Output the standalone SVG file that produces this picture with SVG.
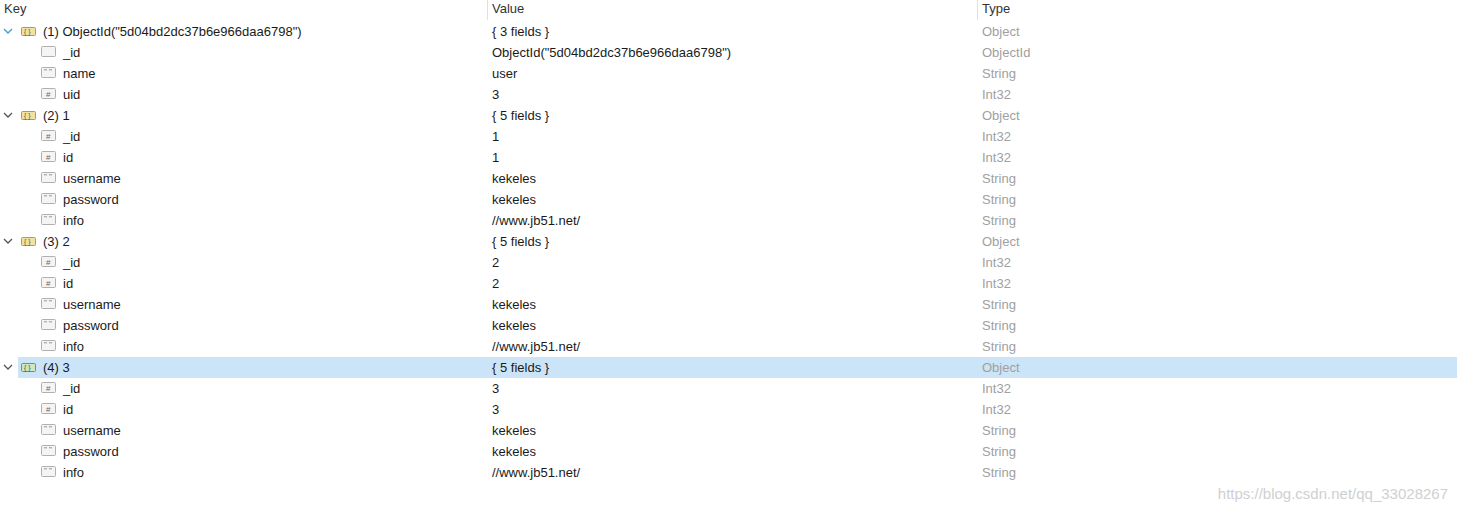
<svg xmlns="http://www.w3.org/2000/svg" width="1457" height="512" viewBox="0 0 1457 512">
<defs>
<style>
text{font-family:"Liberation Sans","Noto Sans",sans-serif;font-size:13px;fill:#1a1a1a}
.t{fill:#a0a0a0}
.h{fill:#333}
.ob{fill:#efe2a4;stroke:#b49a4a;stroke-width:1}
.ob4{fill:#cfe5c4;stroke:#6a9a5a;stroke-width:1}
.fi{fill:#f4f4f4;stroke:#b0b0b0;stroke-width:1}
.ic{font-size:8px;fill:#666}
.oc{font-size:7px;fill:#6a5a20}
.chev{fill:none;stroke:#555;stroke-width:1.3}
.wm{fill:#d0d0d0;font-size:15px}
</style>
<g id="ficon"><rect class="fi" x="41.5" y="-5.5" width="14" height="10" rx="1"/></g>
</defs>
<rect width="1457" height="512" fill="#fff"/>
<g id="header">
<text class="h" x="4" y="13">Key</text>
<text class="h" x="492" y="13">Value</text>
<text class="h" x="982" y="13">Type</text>
<line x1="487.5" y1="0" x2="487.5" y2="20" stroke="#e0e0e0"/>
<line x1="977.5" y1="0" x2="977.5" y2="20" stroke="#e0e0e0"/>
</g>
<rect id="highlight" x="18" y="357" width="1439" height="21" fill="#cce4f7"/>
<g id="rows">
<polyline class="chev" points="4,29 8,33 12,29" style="stroke:#3aa0d8"/>
<rect class="ob" x="21.5" y="27.5" width="14" height="8" rx="1"/><text class="oc" x="24" y="34">{ }</text>
<text x="43" y="36">(1) ObjectId("5d04bd2dc37b6e966daa6798")</text>
<text x="492" y="36">{ 3 fields }</text><text class="t" x="982" y="36">Object</text>
<use href="#ficon" y="52"/><text x="63" y="57">_id</text><text x="492" y="57">ObjectId("5d04bd2dc37b6e966daa6798")</text><text class="t" x="982" y="57">ObjectId</text>
<use href="#ficon" y="73"/><text class="ic" x="44" y="74">" "</text><text x="63" y="78">name</text><text x="492" y="78">user</text><text class="t" x="982" y="78">String</text>
<use href="#ficon" y="94"/><text class="ic" x="46" y="97">#</text><text x="63" y="99">uid</text><text x="492" y="99">3</text><text class="t" x="982" y="99">Int32</text>
<polyline class="chev" points="4,113 8,117 12,113"/>
<rect class="ob" x="21.5" y="111.5" width="14" height="8" rx="1"/><text class="oc" x="24" y="118">{ }</text>
<text x="43" y="120">(2) 1</text><text x="492" y="120">{ 5 fields }</text><text class="t" x="982" y="120">Object</text>
<use href="#ficon" y="136"/><text class="ic" x="46" y="139">#</text><text x="63" y="141">_id</text><text x="492" y="141">1</text><text class="t" x="982" y="141">Int32</text>
<use href="#ficon" y="157"/><text class="ic" x="46" y="160">#</text><text x="63" y="162">id</text><text x="492" y="162">1</text><text class="t" x="982" y="162">Int32</text>
<use href="#ficon" y="178"/><text class="ic" x="44" y="179">" "</text><text x="63" y="183">username</text><text x="492" y="183">kekeles</text><text class="t" x="982" y="183">String</text>
<use href="#ficon" y="199"/><text class="ic" x="44" y="200">" "</text><text x="63" y="204">password</text><text x="492" y="204">kekeles</text><text class="t" x="982" y="204">String</text>
<use href="#ficon" y="220"/><text class="ic" x="44" y="221">" "</text><text x="63" y="225">info</text><text x="492" y="225">//www.jb51.net/</text><text class="t" x="982" y="225">String</text>
<polyline class="chev" points="4,239 8,243 12,239"/>
<rect class="ob" x="21.5" y="237.5" width="14" height="8" rx="1"/><text class="oc" x="24" y="244">{ }</text>
<text x="43" y="246">(3) 2</text><text x="492" y="246">{ 5 fields }</text><text class="t" x="982" y="246">Object</text>
<use href="#ficon" y="262"/><text class="ic" x="46" y="265">#</text><text x="63" y="267">_id</text><text x="492" y="267">2</text><text class="t" x="982" y="267">Int32</text>
<use href="#ficon" y="283"/><text class="ic" x="46" y="286">#</text><text x="63" y="288">id</text><text x="492" y="288">2</text><text class="t" x="982" y="288">Int32</text>
<use href="#ficon" y="304"/><text class="ic" x="44" y="305">" "</text><text x="63" y="309">username</text><text x="492" y="309">kekeles</text><text class="t" x="982" y="309">String</text>
<use href="#ficon" y="325"/><text class="ic" x="44" y="326">" "</text><text x="63" y="330">password</text><text x="492" y="330">kekeles</text><text class="t" x="982" y="330">String</text>
<use href="#ficon" y="346"/><text class="ic" x="44" y="347">" "</text><text x="63" y="351">info</text><text x="492" y="351">//www.jb51.net/</text><text class="t" x="982" y="351">String</text>
<polyline class="chev" points="4,365 8,369 12,365"/>
<rect class="ob4" x="21.5" y="363.5" width="14" height="8" rx="1"/><text class="oc" x="24" y="370" style="fill:#3a6a2a">{ }</text>
<text x="43" y="372">(4) 3</text><text x="492" y="372">{ 5 fields }</text><text class="t" x="982" y="372">Object</text>
<use href="#ficon" y="388"/><text class="ic" x="46" y="391">#</text><text x="63" y="393">_id</text><text x="492" y="393">3</text><text class="t" x="982" y="393">Int32</text>
<use href="#ficon" y="409"/><text class="ic" x="46" y="412">#</text><text x="63" y="414">id</text><text x="492" y="414">3</text><text class="t" x="982" y="414">Int32</text>
<use href="#ficon" y="430"/><text class="ic" x="44" y="431">" "</text><text x="63" y="435">username</text><text x="492" y="435">kekeles</text><text class="t" x="982" y="435">String</text>
<use href="#ficon" y="451"/><text class="ic" x="44" y="452">" "</text><text x="63" y="456">password</text><text x="492" y="456">kekeles</text><text class="t" x="982" y="456">String</text>
<use href="#ficon" y="472"/><text class="ic" x="44" y="473">" "</text><text x="63" y="477">info</text><text x="492" y="477">//www.jb51.net/</text><text class="t" x="982" y="477">String</text>
</g>
<text class="wm" x="1448" y="499" text-anchor="end">https://blog.csdn.net/qq_33028267</text>
</svg>
